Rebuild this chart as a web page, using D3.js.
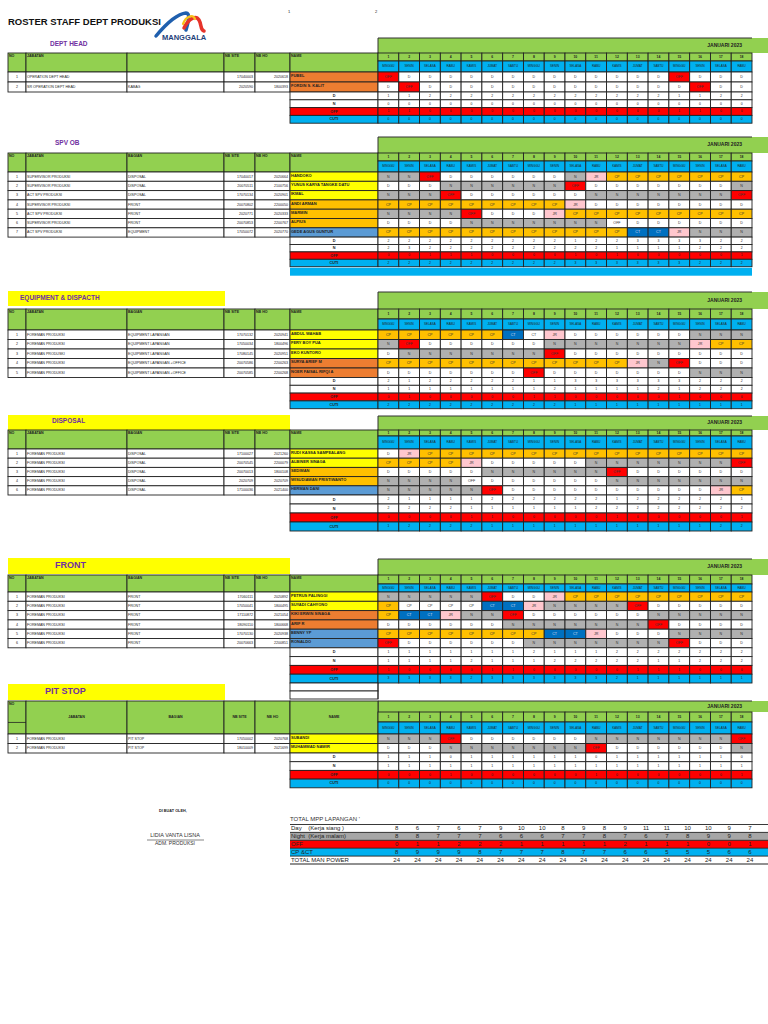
<!DOCTYPE html>
<html><head><meta charset="utf-8">
<script src="https://cdn.jsdelivr.net/npm/d3@7"></script>
<style>body{margin:0;background:#fff}svg{display:block;font-family:"Liberation Sans",Arial,sans-serif}</style>
</head><body><svg id="c" width="768" height="1024"></svg>
<script>
const days = d3.range(1,19);
const dayNames = ["MINGGU","SENIN","SELASA","RABU","KAMIS","JUMAT","SABTU","MINGGU","SENIN","SELASA","RABU","KAMIS","JUMAT","SABTU","MINGGU","SENIN","SELASA","RABU"];
const monthLabel = "JANUARI 2023";
const colHeads = ["NO","JABATAN","BAGIAN","NB SITE","NB HO","NAME"];

// staff: [no, jabatan, bagian, nbSite, nbHo, name, nameColorKey, schedule]
const deptHeadStaff = [
 ["1","OPERATION DEPT HEAD","","17040003","2020618","FUBEL","o2","OFF D D D D D D D D D D D D D OFF D D D"],
 ["2","SR OPERATION DEPT HEAD","KABAG","2020590","1800393","FORDIN S. KALIT","o2","D OFF D D D D D D D D D D D D D OFF D D"]];
const deptHeadSum = [[1,1,2,2,2,2,2,2,2,2,2,2,2,2,1,1,2,2],[0,0,0,0,0,0,0,0,0,0,0,0,0,0,0,0,0,0],[1,1,0,0,0,0,0,0,0,0,0,0,0,0,1,1,0,0],[0,0,0,0,0,0,0,0,0,0,0,0,0,0,0,0,0,0]];

const spvStaff = [
 ["1","SUPERVISOR PRODUKSI","DISPOSAL","17040017","2020664","HANDOKO","y","N N OFF D D D D D D N JR CP CP CP CP CP CP CP"],
 ["2","SUPERVISOR PRODUKSI","DISPOSAL","20070511","2100756","YUNUS KARYA TANGKE DATU","y","D D D N N N N N N OFF D D D D D D D N"],
 ["3","ACT SPV PRODUKSI","DISPOSAL","17070134","2020901","IKMAL","y","N N N OFF D D D D D D N N N N N N N OFF"],
 ["4","SUPERVISOR PRODUKSI","FRONT","20070802","2200050","ANDI ARMAN","o1","CP CP CP CP CP CP CP CP CP JR D D D D D D D D"],
 ["5","ACT SPV PRODUKSI","FRONT","2020771","2020333","MARMIN","o1","N N N N OFF D D D JR CP CP CP CP CP CP CP CP CP"],
 ["6","SUPERVISOR PRODUKSI","FRONT","20070853","2200767","ALPIUS","o1","D D D D N N N N N N N off D D D D D D"],
 ["7","ACT SPV PRODUKSI","EQUIPMENT","17050072","2020770","GEDE AGUS GUNTUR","b","CP CP CP CP CP CP CP CP CP CP CP CP CT CT JR N N N"]];
const spvSum = [[2,2,2,2,2,2,2,2,2,1,2,2,3,3,3,3,2,2],[2,3,2,2,2,2,2,2,2,2,2,1,1,1,1,2,2,2],[0,0,1,1,1,0,0,0,0,1,0,1,0,0,0,0,0,1],[2,2,2,2,2,2,2,2,2,3,3,3,3,3,3,2,2,2]];

const equipStaff = [
 ["1","FOREMAN PRODUKSI","EQUIPMENT LAPANGAN","17070132","2020941","ABDUL WAHAB","y","CP CP CP CP CP CP CT ct JR D D D D D D N N N"],
 ["2","FOREMAN PRODUKSI","EQUIPMENT LAPANGAN","17050034","1800496","FERY BOY PUA","y","N OFF D D D D D D N N N N N N N JR CP CP"],
 ["3","FOREMAN PRODUSKI","EQUIPMENT LAPANGAN","17080145","2020951","EKO KUNTORO","y","D N N N N N N N OFF D D D D D D D D D"],
 ["4","FOREMAN PRODUKSI","EQUIPMENT LAPANGAN +OFFICE","20070586","2200263","SURYA ARIEF M","o2","CP CP CP CP CP CP CP CP CP CP CP CP JR N OFF D D D"],
 ["5","FOREMAN PRODUKSI","EQUIPMENT LAPANGAN +OFFICE","20070585","2200268","NOER FAISAL RIFQI A","o2","D D D D D D D OFF D D D D D D D N N N"]];
const equipSum = [[2,1,2,2,2,2,2,1,1,3,3,3,3,3,3,2,2,2],[1,1,1,1,1,1,1,1,2,1,1,1,1,2,1,2,2,2],[0,1,0,0,0,0,0,1,1,0,0,0,0,0,1,0,0,0],[2,2,2,2,2,2,2,2,2,1,1,1,1,1,1,1,1,1]];

const dispStaff = [
 ["1","FOREMAN PRODUKSI","DISPOSAL","17100027","2021260","RUDI KASSA SAMPEALANG","y","D JR CP CP CP CP CP CP CP CP CP CP CP CP CP CP CP CP"],
 ["2","FOREMAN PRODUKSI","DISPOSAL","20070545","2200079","ALBINER SINAGA","y","CP CP CP CP JR D D D D D N N N N N N N OFF"],
 ["3","FOREMAN PRODUKSI","DISPOSAL","20070013","1800108","SEDIMAN","o1","D D D D D N N N N N N OFF D D D D D D"],
 ["4","FOREMAN PRODUKSI","DISPOSAL","2020709","2020709","WISUDIAWAN PRISTIWANTO","o1","N N N N off D D D D D D N N N N N N N"],
 ["6","FOREMAN PRODUKSI","DISPOSAL","17100036","2021400","HERMAN DANI","b","N N N N N OFF D D D D D D D D D D JR CP"]];
const dispSum = [[2,1,1,1,1,2,2,2,2,2,2,1,2,2,2,2,2,1],[2,2,2,2,1,1,1,1,1,1,2,2,2,2,2,2,2,2],[0,0,0,0,1,1,0,0,0,0,0,1,0,0,0,0,0,1],[1,2,2,2,2,1,1,1,1,1,1,1,1,1,1,1,2,2]];

const frontStaff = [
 ["1","FOREMAN PRODUKSI","FRONT","17060111","2020892","PETRUS PALINGGI","y","N N N N N OFF D D JR CP CP CP CP CP CP CP CP CP"],
 ["2","FOREMAN PRODUKSI","FRONT","17050041","1800495","SUYADI CAHYONO","y","CP cp cp cp cp CT CT JR N N N N OFF D D D D D"],
 ["3","FOREMAN PRODUKSI","FRONT","17110872","2021054","KIKI ERWIN SINAGA","o2","CP CT CT JR N N OFF D D D D D D N N N N N"],
 ["4","FOREMAN PRODUKSI","FRONT","18090110","1800668","ARIF R","o2","D D D D D D N N N N N N N OFF D D D D"],
 ["5","FOREMAN PRODUKSI","FRONT","17070130","2020938","BENNY YP","b","CP CP CP CP CP CP CP CP CT CT JR D D D N N N N"],
 ["6","FOREMAN PRODUKSI","FRONT","20070663","2200851","RONALDO","b","OFF D D D D D D N N N N N N N OFF D D D"]];
const frontSum = [[1,1,1,1,1,1,1,2,1,1,1,2,2,2,2,2,2,2],[1,1,1,1,2,1,1,1,2,2,2,2,2,1,1,2,2,2],[1,0,0,0,0,1,1,0,0,0,0,0,1,1,1,0,0,0],[3,3,3,3,2,3,3,3,3,3,3,2,1,1,1,1,1,1]];

const pitStaff = [
 ["1","FOREMAN PRODUKSI","PIT STOP","17050002","2020768","SUBANDI","y","N N N OFF D D D D D D N N N N N N N OFF"],
 ["2","FOREMAN PRODUKSI","PIT STOP","18010009","2021699","MUHAMMAD NAWIR","y","D D D N N N N N N N OFF D D D D D D N"]];
const pitSum = [[1,1,1,0,1,1,1,1,1,1,0,1,1,1,1,1,1,0],[1,1,1,1,1,1,1,1,1,1,1,1,1,1,1,1,1,1],[0,0,0,1,0,0,0,0,0,0,1,0,0,0,0,0,0,1],[0,0,0,0,0,0,0,0,0,0,0,0,0,0,0,0,0,0]];

const sumLabels = ["D","N","OFF","CUTI"];
const mppLabels = ["Day    (Kerja siang )","Night  (Kerja malam)","OFF","CP &CT","TOTAL MAN POWER"];
const mppDay = [8,6,7,6,7,9,10,10,8,9,8,9,11,11,10,10,9,7];
const mppNight = [8,8,7,7,7,6,6,6,7,7,8,7,6,7,8,9,9,8];
const mppOff = [0,1,1,2,2,2,1,1,1,1,1,2,1,1,1,0,0,1];
const mppCpct = [8,9,9,9,8,7,7,7,8,7,7,6,6,5,5,5,6,6];
const mppTotal = [24,24,24,24,24,24,24,24,24,24,24,24,24,24,24,24,24,24];

// ---- styling / layout ----
const C = {green:"#92d050",blue:"#00b0f0",red:"#ff0000",yellow:"#ffff00",o1:"#ffc000",o2:"#ed7d31",b:"#5b9bd5",grey:"#b0b0b0",ct:"#0070c0",jr:"#ffc7ce",purple:"#7030a0"};
const nameFill = {y:C.yellow,o1:C.o1,o2:C.o2,b:C.b};
const codeStyle = {D:["#fff","D"],N:[C.grey,"N"],OFF:[C.red,"OFF"],off:["#fff","OFF"],CP:[C.o1,"CP"],cp:["#fff","CP"],CT:[C.ct,"CT"],ct:["#fff","CT"],JR:[C.jr,"JR"]};
const colX = [8,26,127,224,255,290,378];
const x = d3.scaleBand().domain(days).range([378,752]);
const svg = d3.select("#c");
const F = "'Liberation Sans',Arial,sans-serif";

function rect(g,x0,y0,w,h,fill,sw=0.6){g.append("rect").attr("x",x0).attr("y",y0).attr("width",w).attr("height",h).attr("fill",fill).attr("stroke","#222").attr("stroke-width",sw);}
function text(g,t,x0,y0,o={}){return g.append("text").attr("x",x0).attr("y",y0).attr("font-size",o.fs||4).attr("font-weight",o.fw||"normal").attr("fill",o.fill||"#222").attr("text-anchor",o.a||"start").attr("dominant-baseline","middle").text(t);}

const sections = [
 {title:"DEPT HEAD",tx:50,ty:44,band:null,jan:38,num:53,nm:61,row:72,rh:10,sh:7.8,staff:deptHeadStaff,sum:deptHeadSum,noBag:true},
 {title:"SPV OB",tx:55,ty:143,band:null,jan:137,num:153,nm:161,row:172,rh:9.3,sh:7.4,staff:spvStaff,sum:spvSum,extra:true},
 {title:"EQUIPMENT & DISPACTH",tx:20,ty:298,band:[8,225,291,306],jan:292,num:309,nm:319,row:330,rh:9.5,sh:7.8,staff:equipStaff,sum:equipSum},
 {title:"DISPOSAL",tx:52,ty:421,band:[8,290,415,430],jan:416,num:430,nm:436,row:449,rh:9.2,sh:9,staff:dispStaff,sum:dispSum},
 {title:"FRONT",tx:55,ty:566,band:[8,290,558,574],jan:559,num:575,nm:584,row:592,rh:9.3,sh:8.8,staff:frontStaff,sum:frontSum,blank:true},
 {title:"PIT STOP",tx:45,ty:692,band:[8,225,684,700],jan:701,num:712,nm:722,row:734,rh:9.5,sh:8.7,staff:pitStaff,sum:pitSum,pit:true}
];

sections.forEach(s=>{
 const g = svg.append("g");
 if(s.band) g.append("rect").attr("x",s.band[0]).attr("y",s.band[2]).attr("width",s.band[1]-s.band[0]).attr("height",s.band[3]-s.band[2]).attr("fill",C.yellow);
 text(g,s.title,s.tx,s.ty,{fs:s.band?(s.title.length<9?9:6.5):6.5,fw:"bold",fill:C.purple}).attr("font-size",s.title=="FRONT"||s.title=="PIT STOP"?9:6.5);
 // month band
 g.append("rect").attr("x",378).attr("y",s.jan).attr("width",390).attr("height",s.num-s.jan).attr("fill",C.green);
 g.append("line").attr("x1",378).attr("x2",752).attr("y1",s.jan).attr("y2",s.jan).attr("stroke","#333").attr("stroke-width",1);
 g.append("line").attr("x1",378).attr("x2",378).attr("y1",s.jan).attr("y2",s.num).attr("stroke","#333").attr("stroke-width",1);
 text(g,monthLabel,742,s.jan+(s.num-s.jan)/2,{fs:5,fw:"bold",a:"end"});
 // left header
 const hTop = s.pit? s.jan : s.num;
 for(let i=0;i<6;i++){
  rect(g,colX[i],hTop,colX[i+1]-colX[i],s.row-hTop,C.green,0.9);
  const lab = (i==2&&s.noBag)?"":colHeads[i];
  if(s.pit) text(g,lab==="NO"?"NO":lab,i==0?colX[i]+1:(colX[i]+colX[i+1])/2,i==0?hTop+3:hTop+(s.row-hTop)/2,{fs:3.6,fw:"bold",a:i==0?"start":"middle"});
  else text(g,lab,colX[i]+1,hTop+3,{fs:3.6,fw:"bold"});
 }
 if(s.pit) g.append("line").attr("x1",8).attr("x2",26).attr("y1",hTop+(s.row-hTop)*0.65).attr("y2",hTop+(s.row-hTop)*0.65).attr("stroke","#222").attr("stroke-width",0.8);
 // day headers
 days.forEach((d,i)=>{
  rect(g,x(d),s.num,x.bandwidth(),s.nm-s.num,C.green,0.9);
  text(g,d,x(d)+x.bandwidth()/2,(s.num+s.nm)/2,{fs:3.4,fw:"bold",a:"middle"});
  rect(g,x(d),s.nm,x.bandwidth(),s.row-s.nm,C.blue,0.9);
  text(g,dayNames[i],x(d)+x.bandwidth()/2,(s.nm+s.row)/2,{fs:3,a:"middle"});
 });
 // staff rows
 s.staff.forEach((r,ri)=>{
  const y0 = s.row+ri*s.rh;
  const vals=[r[0],r[1],r[2],r[3],r[4]];
  for(let i=0;i<5;i++){
   rect(g,colX[i],y0,colX[i+1]-colX[i],s.rh,"#fff",0.9);
   const a = (i==0)?"middle":(i>=3?"end":"start");
   const xx = i==0?(colX[0]+colX[1])/2:(i>=3?colX[i+1]-2:colX[i]+1);
   text(g,vals[i],xx,y0+s.rh/2,{fs:3.6,a});
  }
  rect(g,290,y0,88,s.rh,nameFill[r[6]],0.9);
  text(g,r[5],291,y0+s.rh/2-1,{fs:4,fw:"bold"});
  r[7].split(" ").forEach((c,di)=>{
   const st = codeStyle[c];
   rect(g,x(days[di]),y0,x.bandwidth(),s.rh,st[0],0.9);
   text(g,st[1],x(days[di])+x.bandwidth()/2,y0+s.rh/2,{fs:3.6,a:"middle",fill:c=="CT"?"#dde":"#333"});
  });
 });
 // summary rows
 const sTop = s.row+s.staff.length*s.rh;
 const sFill = ["#fff","#fff",C.red,C.blue];
 sumLabels.forEach((lab,k)=>{
  const y0 = sTop+k*s.sh;
  rect(g,290,y0,88,s.sh,sFill[k],0.9);
  text(g,lab,334,y0+s.sh/2,{fs:3.8,fw:"bold",a:"middle"});
  days.forEach((d,i)=>{
   rect(g,x(d),y0,x.bandwidth(),s.sh,sFill[k],0.9);
   text(g,s.sum[k][i],x(d)+x.bandwidth()/2,y0+s.sh/2,{fs:3.4,a:"middle"});
  });
 });
 const end = sTop+4*s.sh;
 if(s.extra) g.append("rect").attr("x",290).attr("y",end+1).attr("width",462).attr("height",8).attr("fill",C.blue);
 if(s.blank){
  for(let k=0;k<2;k++) rect(g,290,end+k*8,88,8,"#fff",0.9);
  g.append("line").attr("x1",378).attr("x2",378).attr("y1",end).attr("y2",end+16).attr("stroke","#222").attr("stroke-width",0.9);
 }
});

// title, page numbers
text(svg,"ROSTER STAFF DEPT PRODUKSI",8,22,{fs:9.5,fw:"bold",fill:"#111"});
text(svg,"1",288,12,{fs:4});
text(svg,"2",375,12,{fs:4});
// logo
const lg = svg.append("g");
lg.append("path").attr("d","M156,36 C166,24 176,14 186,13 C190,13 189,20 186,30").attr("fill","none").attr("stroke","#1f5fae").attr("stroke-width",3.5).attr("stroke-linecap","round");
lg.append("path").attr("d","M184,28 C189,18 196,15 199,20 C202,25 200,30 204,31").attr("fill","none").attr("stroke","#e6332a").attr("stroke-width",3.5).attr("stroke-linecap","round");
lg.append("path").attr("d","M183,24 C186,16 193,14 195,19").attr("fill","none").attr("stroke","#f7c21a").attr("stroke-width",2.2).attr("stroke-linecap","round");
text(lg,"MANGGALA",162,38,{fs:7.5,fw:"bold",fill:"#1f3f7a"});

// bottom signature
text(svg,"DI BUAT OLEH,",159,811,{fs:3.8,fw:"bold"});
text(svg,"LIDIA VANTA LISNA",175,836,{fs:5.5,a:"middle",fill:"#333"});
svg.append("line").attr("x1",147).attr("x2",204).attr("y1",840).attr("y2",840).attr("stroke","#333").attr("stroke-width",0.6);
text(svg,"ADM. PRODUKSI",175,844,{fs:5,a:"middle",fill:"#333"});

// MPP table
text(svg,"TOTAL MPP LAPANGAN '",290,819,{fs:6,fill:"#333"});
const mppVals=[mppDay,mppNight,mppOff,mppCpct,mppTotal];
const mppFill=["#fff","#a6a6a6",C.red,C.blue,"#fff"];
const my = d3.scaleBand().domain(d3.range(5)).range([824.5,864]);
mppVals.forEach((vals,k)=>{
 const y0=my(k);
 svg.append("rect").attr("x",290).attr("y",y0).attr("width",478).attr("height",my.bandwidth()).attr("fill",mppFill[k]);
 svg.append("line").attr("x1",290).attr("x2",768).attr("y1",y0).attr("y2",y0).attr("stroke","#222").attr("stroke-width",0.9);
 text(svg,mppLabels[k],291,y0+my.bandwidth()/2,{fs:6,fill:"#222"}).attr("xml:space","preserve");
 vals.forEach((v,i)=>text(svg,v,x(days[i])+x.bandwidth()*0.9,y0+my.bandwidth()/2,{fs:6,a:"middle",fill:"#222"}));
});
svg.append("line").attr("x1",290).attr("x2",768).attr("y1",864).attr("y2",864).attr("stroke","#222").attr("stroke-width",1.2);
</script></body></html>
